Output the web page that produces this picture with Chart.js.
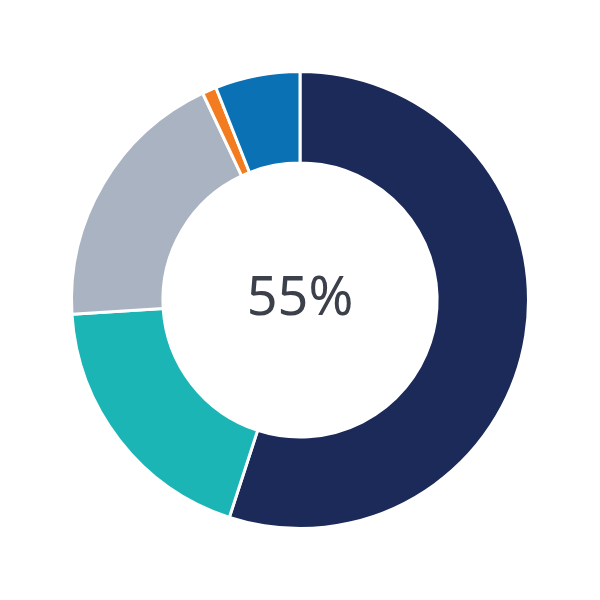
<!DOCTYPE html>
<html>
<head>
<meta charset="utf-8">
<script src="https://cdn.jsdelivr.net/npm/chart.js@4"></script>
<style>
  html, body { margin: 0; padding: 0; background: #fff; }
  #wrap { width: 600px; height: 600px; }
  .preload { font-family: "Noto Sans"; position: absolute; left: -999px; }
</style>
</head>
<body>
<span class="preload">55%</span>
<div id="wrap"><canvas id="chart" width="600" height="600"></canvas></div>
<script>
const labels = ['A', 'B', 'C', 'D', 'E'];
const values = [55, 19, 19, 1, 6];
const colors = ['#1b2a59', '#1bb5b6', '#a9b3c2', '#f37c20', '#0a72b4'];
const centerText = '55%';

// draws the big percentage in the hole
const centerLabel = {
  id: 'centerLabel',
  afterDraw(chart) {
    const ctx = chart.ctx;
    const meta = chart.getDatasetMeta(0).data[0];
    ctx.save();
    ctx.font = 'normal 54px "Noto Sans", sans-serif';
    ctx.fillStyle = '#3b404a';
    ctx.textAlign = 'center';
    ctx.textBaseline = 'middle';
    ctx.fillText(centerText, meta.x, meta.y);
    ctx.restore();
  }
};

function draw() {
  const ctx = document.getElementById('chart').getContext('2d');
  new Chart(ctx, {
    type: 'doughnut',
    data: {
      labels,
      datasets: [{
        data: values,
        backgroundColor: colors,
        borderColor: '#ffffff',
        borderWidth: 3,
        hoverOffset: 0
      }]
    },
    options: {
      responsive: false,
      animation: false,
      cutout: '60%',
      layout: { padding: 70 },
      plugins: {
        legend: { display: false },
        tooltip: { enabled: false }
      }
    },
    plugins: [centerLabel]
  });
}

document.fonts.load('54px "Noto Sans"').then(draw, draw);
</script>
</body>
</html>
